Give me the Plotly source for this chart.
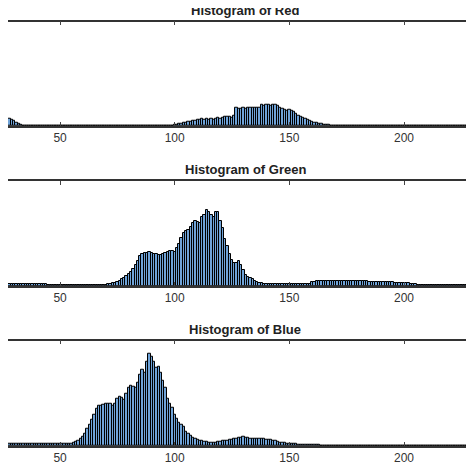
import plotly.graph_objects as go
from plotly.subplots import make_subplots

# bins 20..230 (pixel intensity), heights in arbitrary units (0..100 of axis)
bins = list(range(20, 236))

red = ([8, 8, 8, 8, 8, 7, 7, 7, 7, 6, 5, 3, 2, 1]
       + [0.5] * 15 + [0] * 43 + [0.5] * 8
       + [1, 1.5, 2, 2.5, 3, 3.5, 4, 4.5, 5, 5.5,
          6, 6, 7, 6.5, 7, 6, 7, 6.5, 7, 8,
          7, 8, 9, 8.5, 9, 8, 10, 18, 17, 17,
          18, 17, 18, 18, 18, 18, 18, 18, 20, 19,
          20, 20, 19, 20, 20, 19, 18, 17, 16, 15,
          16, 15, 14, 12, 10, 9, 8, 7, 6, 5,
          4, 3.5, 3, 2.5, 2, 1.5, 1, 1, 0.5, 0.5, 0.5, 0.5]
       + [0] * 64)

green = ([15, 14, 12, 10, 8, 6, 5] + [1.5] * 18 + [1] * 26
         + [1.5, 2, 2.5, 3, 4, 5, 6, 7, 9, 11,
            13, 16, 20, 24, 28, 30, 31, 31, 32, 31,
            30, 30, 29, 29, 30, 31, 32, 33, 33, 32,
            36, 40, 46, 50, 52, 53, 56, 60, 62, 61,
            60, 66, 68, 72, 70, 68, 66, 70, 70, 62,
            55, 45, 38, 30, 25, 22, 22, 24, 20, 15,
            10, 8, 7, 6, 5, 4, 3, 2.5, 2, 2]
         + [1.5] * 19
         + [4, 4, 4.5, 4.5, 5, 5, 5, 5, 5, 5, 5, 5, 5, 5, 5, 5, 5, 5,
            4.5, 5, 5, 5, 4.5, 4.5, 4.5, 4, 4, 4, 4, 4, 4, 4, 4, 4, 4, 3.5]
         + [3, 3, 3, 2.5, 2.5, 2.5, 2.5, 2, 2, 2]
         + [1] * 30)

blue = ([2] * 36 + [3, 4, 5, 7, 9]
        + [12, 16, 20, 25, 30, 35, 38, 38, 39, 40,
           40, 40, 38, 40, 45, 47, 46, 44, 50, 55,
           57, 56, 55, 60, 68, 72, 70, 80, 88, 85,
           80, 74, 75, 70, 62, 55, 45, 40, 36, 30,
           26, 22, 20, 18, 14, 12, 10, 8, 7, 6,
           5, 4.5, 4, 4, 3.5, 3.5, 3.5, 3.5, 4, 4,
           4.5, 4.5, 5, 5.5, 6, 6.5, 7, 7.5, 8, 8.5,
           8, 7.5, 7, 7, 7, 7, 7, 7, 6.5, 6,
           6, 5.5, 5, 4.5, 4, 3.5, 3, 3, 2.5, 2.5,
           2, 2, 2, 1.5, 1.5, 1.5, 1, 1, 1, 1, 1, 0.8, 0.8, 0.5, 0.5]
        + [0.5] * 21 + [0] * 49)

titles = ["Histogram of Red", "Histogram of Green", "Histogram of Blue"]
series = [red, green, blue]
tick_vals = [50, 100, 150, 200]

# page body adds an 8px offset, so domains/range are shifted to compensate
domains = [[0.751, 0.971], [0.414, 0.635], [0.076, 0.298]]

fig = make_subplots(rows=3, cols=1)
for i, vals in enumerate(series):
    fig.add_trace(go.Bar(x=bins, y=vals, marker=dict(color="#6fa3d8", line=dict(color="black", width=1)),
                         showlegend=False), row=i + 1, col=1)
    fig.update_xaxes(range=[27.3, 234.0], tickvals=tick_vals, ticks="inside", ticklen=4,
                     mirror="ticks", showline=True, linecolor="#333", linewidth=1.5,
                     showgrid=False, zeroline=False, domain=[0, 1],
                     tickfont=dict(family="Liberation Sans", size=12, color="#333"),
                     row=i + 1, col=1)
    fig.update_yaxes(range=[0, 100], showticklabels=False, showgrid=False, zeroline=False,
                     domain=domains[i], row=i + 1, col=1)
    fig.add_annotation(text="<b>" + titles[i] + "</b>", x=0.5, y=domains[i][1], xref="paper",
                       yref="paper", yanchor="bottom", yshift=2, showarrow=False,
                       font=dict(family="Liberation Sans", size=13, color="#222"))

fig.update_layout(width=474, height=474, margin=dict(l=0, r=0, t=0, b=0), bargap=0,
                  plot_bgcolor="white", paper_bgcolor="white")
fig.write_html("out.html")
